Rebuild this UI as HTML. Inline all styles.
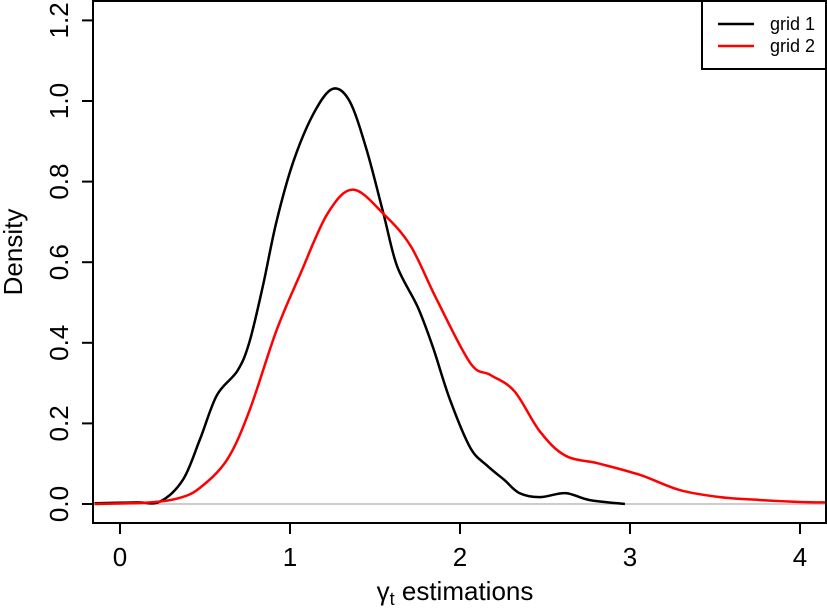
<!DOCTYPE html>
<html><head><meta charset="utf-8"><style>
body{margin:0;background:#fff}
svg{display:block;font-family:"Liberation Sans",Arial,sans-serif}
</style></head><body>
<svg id="c" width="827" height="610"></svg>
<script>
const xTicks=[0,1,2,3,4];
const yTicks=[0,0.2,0.4,0.6,0.8,1.0,1.2];
const yTickLabels=["0.0","0.2","0.4","0.6","0.8","1.0","1.2"];
const g1x=[-0.15,0.1,0.235,0.37,0.47,0.57,0.69,0.76,0.84,0.92,1.02,1.14,1.25,1.35,1.45,1.55,1.63,1.75,1.84,1.94,2.06,2.16,2.26,2.35,2.47,2.62,2.76,2.97];
const g1y=[0.002,0.004,0.006,0.06,0.16,0.27,0.33,0.40,0.54,0.70,0.85,0.97,1.03,1.0,0.88,0.72,0.59,0.49,0.39,0.26,0.14,0.095,0.06,0.027,0.017,0.027,0.01,0.0];
const g2x=[-0.15,0.18,0.35,0.47,0.63,0.76,0.92,1.06,1.22,1.37,1.55,1.71,1.86,2.06,2.18,2.32,2.47,2.62,2.82,3.06,3.29,3.53,3.76,4.0,4.15];
const g2y=[0.0,0.004,0.015,0.04,0.11,0.23,0.43,0.57,0.72,0.78,0.72,0.64,0.51,0.35,0.32,0.28,0.18,0.12,0.10,0.072,0.035,0.017,0.01,0.005,0.004];
const NS="http://www.w3.org/2000/svg";
const svg=document.getElementById('c');
const X=v=>120+170*v, Y=v=>504-403*v;
function mk(t,a,p){const e=document.createElementNS(NS,t);for(const k in a)e.setAttribute(k,a[k]);(p||svg).appendChild(e);return e;}
function path(xs,ys){const P=xs.map((x,i)=>[X(x),Y(ys[i])]);let d=`M${P[0][0]},${P[0][1]}`;
for(let i=0;i<P.length-1;i++){const p0=P[i-1]||P[i],p1=P[i],p2=P[i+1],p3=P[i+2]||p2;
d+=`C${p1[0]+(p2[0]-p0[0])/6},${p1[1]+(p2[1]-p0[1])/6} ${p2[0]-(p3[0]-p1[0])/6},${p2[1]-(p3[1]-p1[1])/6} ${p2[0]},${p2[1]}`;}return d;}
let e;
e=mk('line',{x1:93,x2:826,y1:Y(0),y2:Y(0),stroke:'#bbb','stroke-width':1.5});

e=mk('path',{d:path(g1x,g1y),fill:'none',stroke:'#000','stroke-width':2.5});

e=mk('path',{d:path(g2x,g2y),fill:'none',stroke:'#f00','stroke-width':2.5});

e=mk('rect',{x:93,y:1,width:733,height:522,fill:'none',stroke:'#000','stroke-width':2});

xTicks.forEach(t=>{
 e=mk('line',{x1:X(t),x2:X(t),y1:523,y2:534,stroke:'#000','stroke-width':2});
 
 e=mk('text',{x:X(t),y:566,'text-anchor':'middle','font-size':26});e.textContent=t;
 
});
yTicks.forEach((t,i)=>{
 e=mk('line',{x1:82,x2:93,y1:Y(t),y2:Y(t),stroke:'#000','stroke-width':2});
 
 e=mk('text',{x:0,y:0,'text-anchor':'middle','font-size':26,transform:`translate(68,${Y(t)}) rotate(-90)`});e.textContent=yTickLabels[i];
 
});
e=mk('text',{x:0,y:0,'text-anchor':'middle','font-size':26,transform:'translate(22,252) rotate(-90)'});e.textContent='Density';

e=mk('text',{x:455,y:600,'text-anchor':'middle','font-size':26});
e.innerHTML='γ<tspan font-size="18" dy="5">t</tspan><tspan dy="-5"> estimations</tspan>';

const lg=mk('g',{});

mk('rect',{x:702,y:1,width:124,height:68,fill:'#fff',stroke:'#000','stroke-width':2},lg);
[['grid 1','#000',24],['grid 2','#f00',46]].forEach(([l,c,y])=>{
 e=mk('line',{x1:718,x2:754,y1:y,y2:y,stroke:c,'stroke-width':2.5},lg);
 
 e=mk('text',{x:770,y:y+6,'font-size':18},lg);e.textContent=l;
 
});
</script>
</body></html>
